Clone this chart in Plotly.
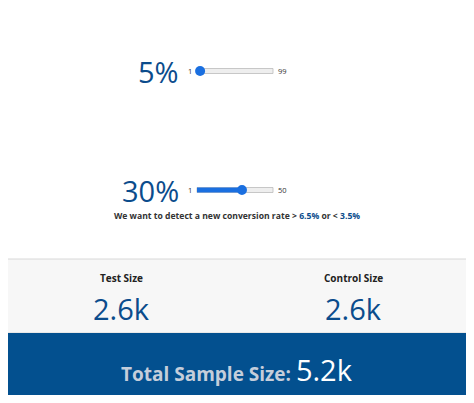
import plotly.graph_objects as go

baseline_value = 5
baseline_min, baseline_max = 1, 99
mde_value = 30
mde_min, mde_max = 1, 50
test_size = "2.6k"
control_size = "2.6k"
total_size = "5.2k"
new_rate_high = "6.5%"
new_rate_low = "3.5%"

# page has an 8px body margin; map the visible window's pixels onto the axes
OFF = 8
W, H = 474, 403
FONT = "Open Sans"
DARK = "#222222"
BLUE = "#0b4c8c"
BAND = "#03508f"
SLIDER = "#1a6fe0"

fig = go.Figure()
fig.update_layout(width=W - 2 * OFF, height=H - 2 * OFF, margin=dict(l=0, r=0, t=0, b=0),
                  paper_bgcolor="white", plot_bgcolor="white", showlegend=False,
                  xaxis=dict(range=[OFF, W - OFF], visible=False, fixedrange=True),
                  yaxis=dict(range=[H - OFF, OFF], visible=False, fixedrange=True),
                  font=dict(family=FONT, color=DARK))

ann = []
def txt(x, y, s, size, color=DARK, anchor="left", bold=False):
    if bold:
        s = "<b>" + s + "</b>"
    ann.append(dict(x=x, y=y, xref="x", yref="y", text=s, showarrow=False,
                    xanchor=anchor, yanchor="middle", font=dict(size=size, color=color, family=FONT)))

txt(6, 10, "Baseline Conversion Rate", 13, bold=True)
txt(6, 25, "The preexisting or expected conversion rate of the control group. This could be a click-through rate, retention rate, or", 8.1)
txt(6, 37, "positive rating rate.", 8.1)
txt(6, 117, "Minimum Detectable Effect", 13, bold=True)
txt(6, 132, "The <b>relative</b> minimum difference in conversion rate between the test and control group we want to observe. This can", 8.1)
txt(6, 144, "be the expected effect, or some minimum threshold where the experiment is not worth running (ie. impact is too", 8.1)
txt(6, 156, "small to care about).", 8.1)
txt(237, 216, f"We want to detect a new conversion rate > <span style='color:{BLUE}'>{new_rate_high}</span> or < <span style='color:{BLUE}'>{new_rate_low}</span>", 8.6, color="#333333", anchor="center", bold=True)

shapes = []
def slider(y, val, vmin, vmax, label_x, label):
    x0, x1 = 197, 273
    kx = x0 + (val - vmin) / (vmax - vmin) * (x1 - x0)
    shapes.append(dict(type="rect", x0=x0, x1=x1, y0=y - 2.5, y1=y + 2.5, xref="x", yref="y",
                       fillcolor="#eeeeee", line=dict(color="#bbbbbb", width=0.8)))
    shapes.append(dict(type="rect", x0=x0, x1=kx, y0=y - 2.5, y1=y + 2.5, xref="x", yref="y",
                       fillcolor=SLIDER, line=dict(width=0)))
    shapes.append(dict(type="circle", x0=kx - 5, x1=kx + 5, y0=y - 5, y1=y + 5, xref="x", yref="y",
                       fillcolor=SLIDER, line=dict(width=0)))
    txt(194, y, str(vmin), 7.5, color="#333333", anchor="right")
    txt(276, y, str(vmax), 7.5, color="#333333")
    txt(label_x, y, label, 29, color=BLUE, anchor="right")

slider(71, baseline_value, baseline_min, baseline_max, 181, f"{baseline_value}%")
slider(190, mde_value, mde_min, mde_max, 181, f"{mde_value}%")

shapes.append(dict(type="rect", x0=4.5, x1=469.5, y0=259, y1=333, xref="x", yref="y",
                   fillcolor="#f7f7f7", line=dict(color="#d8d8d8", width=1)))
shapes.append(dict(type="rect", x0=4.5, x1=469.5, y0=333, y1=397, xref="x", yref="y",
                   fillcolor=BAND, line=dict(width=0)))

txt(121, 278, "Test Size", 10, bold=True)
ann[-1]["xanchor"] = "center"
txt(353, 278, "Control Size", 10, bold=True)
ann[-1]["xanchor"] = "center"
txt(121, 308, test_size, 29, color=BLUE, anchor="center")
txt(353, 308, control_size, 29, color=BLUE, anchor="center")
txt(237, 369, f"<span style='font-size:19px;color:#c5cedb'><b>Total Sample Size:</b></span> <span style='font-size:29px;color:white'>{total_size}</span>", 19, color="white", anchor="center")

fig.update_layout(annotations=ann, shapes=shapes)
fig.write_html("out.html")
